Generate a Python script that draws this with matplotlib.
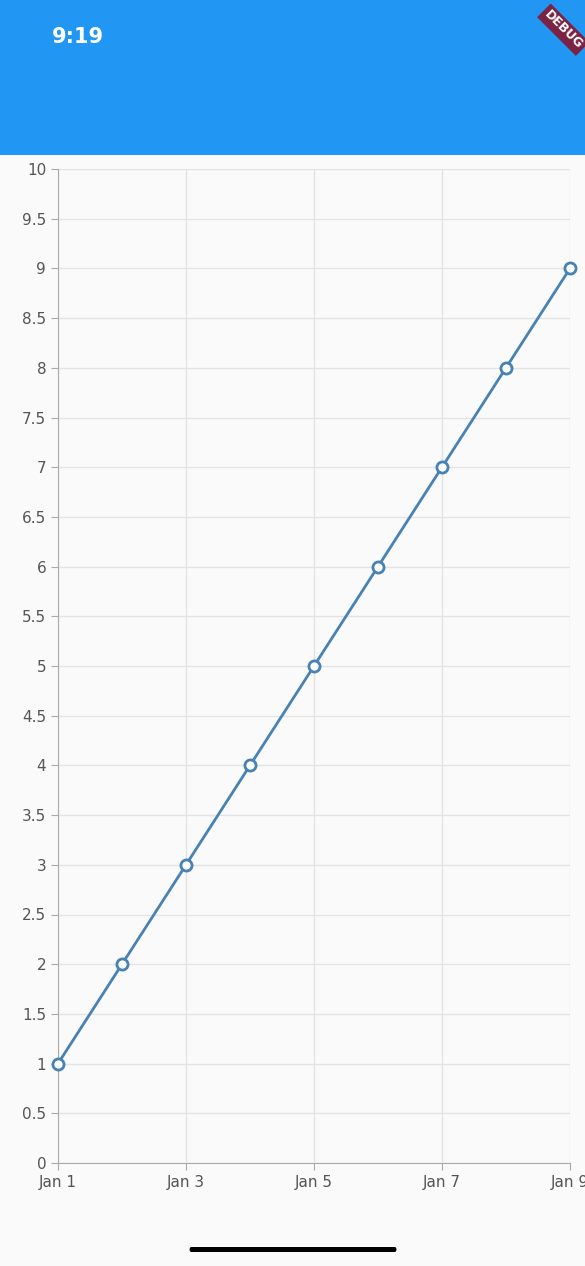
import datetime as dt
import matplotlib
matplotlib.use("Agg")
import matplotlib.pyplot as plt
from matplotlib.patches import FancyBboxPatch, Rectangle

# data
dates = [dt.date(2017, 1, d) for d in range(1, 10)]
values = [1, 2, 3, 4, 5, 6, 7, 8, 9]
tick_dates = [dt.date(2017, 1, d) for d in (1, 3, 5, 7, 9)]
tick_labels = ["Jan 1", "Jan 3", "Jan 5", "Jan 7", "Jan 9"]
y_ticks = [i * 0.5 for i in range(21)]

W, H = 585, 1266
fig = plt.figure(figsize=(W / 100, H / 100), dpi=100, facecolor="#FAFAFA")

# app bar
fig.patches.append(Rectangle((0, 1 - 155 / H), 1, 155 / H, transform=fig.transFigure,
                             facecolor="#2196F3", edgecolor="none", zorder=0))
fig.text(78 / W, 1 - 37 / H, "9:19", color="white", fontsize=15, fontweight="bold",
         ha="center", va="center")
fig.text(1.0, 1 - 8 / H, "DEBUG", color="white", fontsize=9, fontweight="bold",
         rotation=-45, ha="right", va="top",
         bbox=dict(boxstyle="square,pad=0.25", facecolor="#7B2342", edgecolor="none"))

# home indicator
fig.patches.append(FancyBboxPatch((189 / W, 1 - 1252 / H), 208 / W, 5 / H,
                                  boxstyle="round,pad=0,rounding_size=0.004",
                                  transform=fig.transFigure, facecolor="black",
                                  edgecolor="none"))

ax = fig.add_axes([58 / W, 1 - 1163 / H, 512 / W, 994 / H])
ax.set_facecolor("#FAFAFA")
ax.plot(dates, values, color="#4682B4", lw=2, marker="o", ms=8,
        mfc="white", mec="#4682B4", mew=2, clip_on=False, zorder=3)

ax.set_xlim(dates[0], dates[-1])
ax.set_ylim(0, 10)
ax.set_yticks(y_ticks)
ax.set_yticklabels([f"{v:g}" for v in y_ticks])
ax.set_xticks(tick_dates)
ax.set_xticklabels(tick_labels)
ax.grid(True, color="#E3E3E3", lw=1)
ax.set_axisbelow(True)
for s in ("top", "right"):
    ax.spines[s].set_visible(False)
for s in ("left", "bottom"):
    ax.spines[s].set_color("#AAAAAA")
ax.tick_params(colors="#AAAAAA", labelcolor="#555555", labelsize=11, length=5)

fig.savefig("out.png", dpi=100, facecolor=fig.get_facecolor())
